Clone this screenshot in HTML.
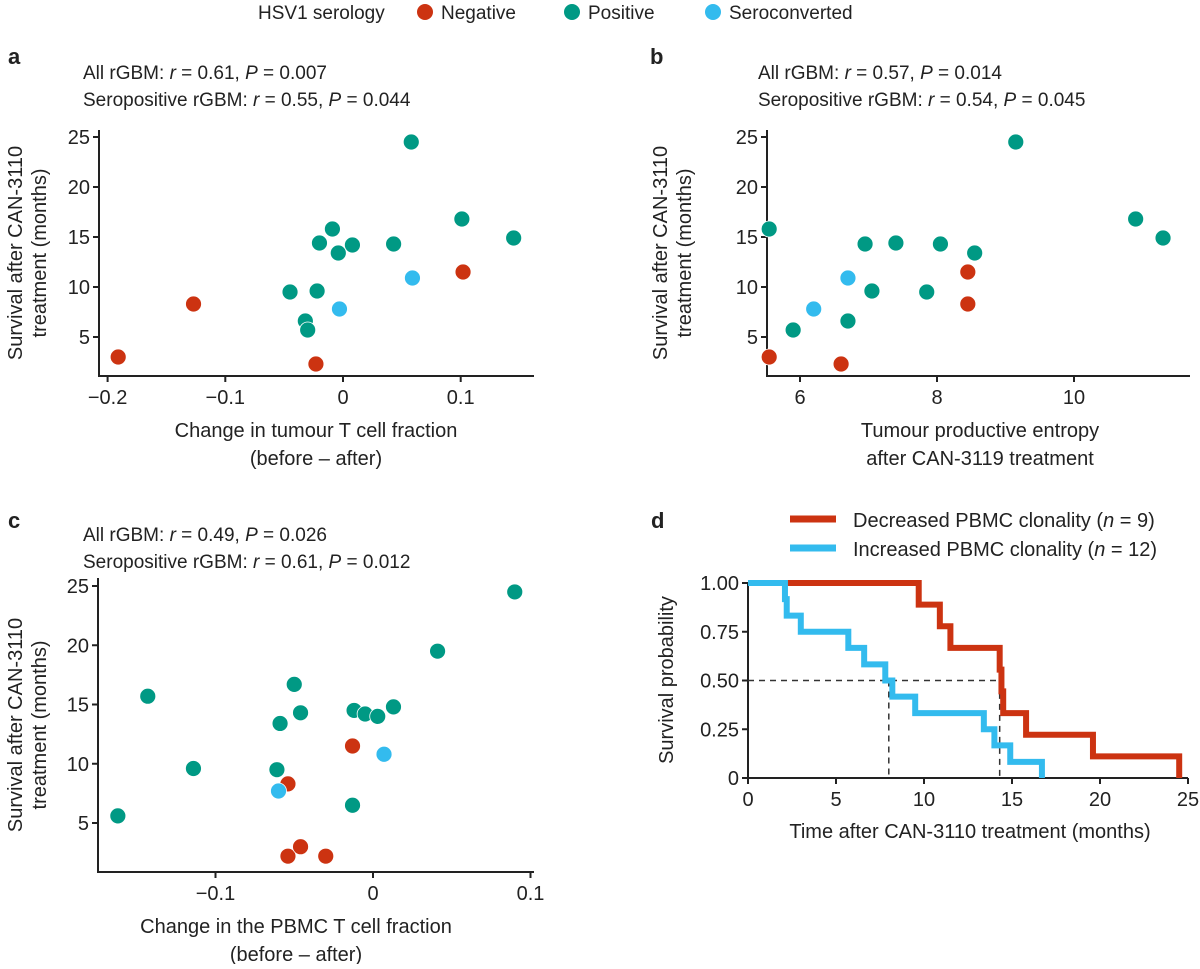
<!DOCTYPE html>
<html><head><meta charset="utf-8"><style>
body{margin:0;background:#fff}
svg{font-family:"Liberation Sans",Arial,sans-serif;}
</style></head><body>
<svg id="s" width="1200" height="964" viewBox="0 0 1200 964" xmlns="http://www.w3.org/2000/svg">
<g font-size="19" fill="#222">
<text x="258" y="19">HSV1 serology</text>
<circle cx="425" cy="12" r="8" fill="#cc3311"/>
<text x="441" y="19">Negative</text>
<circle cx="572" cy="12" r="8" fill="#009984"/>
<text x="588" y="19">Positive</text>
<circle cx="713" cy="12" r="8" fill="#33bbee"/>
<text x="729" y="19">Seroconverted</text>
</g>
<g font-size="19" fill="#222">
<text x="8" y="64" font-weight="bold" font-size="22">a</text>
<text x="83" y="79">All rGBM: <tspan font-style="italic">r</tspan> = 0.61, <tspan font-style="italic">P</tspan> = 0.007</text>
<text x="83" y="106">Seropositive rGBM: <tspan font-style="italic">r</tspan> = 0.55, <tspan font-style="italic">P</tspan> = 0.044</text>
<text x="650" y="64" font-weight="bold" font-size="22">b</text>
<text x="758" y="79">All rGBM: <tspan font-style="italic">r</tspan> = 0.57, <tspan font-style="italic">P</tspan> = 0.014</text>
<text x="758" y="106">Seropositive rGBM: <tspan font-style="italic">r</tspan> = 0.54, <tspan font-style="italic">P</tspan> = 0.045</text>
<text x="8" y="528" font-weight="bold" font-size="22">c</text>
<text x="83" y="541">All rGBM: <tspan font-style="italic">r</tspan> = 0.49, <tspan font-style="italic">P</tspan> = 0.026</text>
<text x="83" y="568">Seropositive rGBM: <tspan font-style="italic">r</tspan> = 0.61, <tspan font-style="italic">P</tspan> = 0.012</text>
<text x="651" y="528" font-weight="bold" font-size="22">d</text>
</g>
<g id="plots"></g>
</svg>
<script>
// Panel a data
const aNegX=[-0.191,-0.127,-0.023,0.102], aNegY=[3.0,8.3,2.3,11.5];
const aSeroX=[-0.003,0.059], aSeroY=[7.8,10.9];
const aPosX=[0.058,0.101,0.145,-0.009,-0.020,0.008,-0.004,0.043,-0.045,-0.022,-0.032,-0.030];
const aPosY=[24.5,16.8,14.9,15.8,14.4,14.2,13.4,14.3,9.5,9.6,6.6,5.7];
const aXTicks=[-0.2,-0.1,0,0.1], aXLabels=["\u22120.2","\u22120.1","0","0.1"];
const survTicks=[5,10,15,20,25];
// Panel b data
const bNegX=[5.55,6.6,8.45,8.45], bNegY=[3.0,2.3,11.5,8.3];
const bSeroX=[6.7,6.2], bSeroY=[10.9,7.8];
const bPosX=[5.55,5.9,6.7,6.95,7.05,7.4,7.85,8.05,8.55,9.15,10.9,11.3];
const bPosY=[15.8,5.7,6.6,14.3,9.6,14.4,9.5,14.3,13.4,24.5,16.8,14.9];
const bXTicks=[6,8,10];
// Panel c data
const cNegX=[-0.054,-0.013,-0.054,-0.046,-0.030], cNegY=[8.3,11.5,2.2,3.0,2.2];
const cSeroX=[-0.060,0.007], cSeroY=[7.7,10.8];
const cPosX=[-0.162,-0.143,-0.114,-0.061,-0.059,-0.050,-0.046,-0.012,-0.005,0.003,0.013,-0.013,0.041,0.090];
const cPosY=[5.6,15.7,9.6,9.5,13.4,16.7,14.3,14.5,14.2,14.0,14.8,6.5,19.5,24.5];
const cXTicks=[-0.1,0,0.1], cXLabels=["\u22120.1","0","0.1"];
// Panel d data (KM steps)
const decTimes=[0,9.7,10.9,11.5,14.3,14.4,14.5,15.8,19.6,24.5];
const decSurv=[1,0.889,0.778,0.667,0.556,0.444,0.333,0.222,0.111,0];
const incTimes=[0,2.1,2.2,3.0,5.7,6.6,7.8,8.2,9.5,13.4,14.0,14.9,16.7];
const incSurv=[1,0.917,0.833,0.75,0.667,0.583,0.5,0.417,0.333,0.25,0.167,0.083,0];
const medianDec=14.3, medianInc=8.0;
const dXTicks=[0,5,10,15,20,25];
const dYTicks=[0,0.25,0.5,0.75,1], dYLabels=["0","0.25","0.50","0.75","1.00"];

const NS="http://www.w3.org/2000/svg";
const root=document.getElementById('plots');
function mk(tag,attrs,parent,txt){const e=document.createElementNS(NS,tag);for(const k in attrs)e.setAttribute(k,attrs[k]);if(txt!==undefined)e.textContent=txt;(parent||root).appendChild(e);return e;}
const COL={neg:"#cc3311",pos:"#009984",sero:"#33bbee"};

function scatter(p){
  const g=mk('g',{});
  
  
  const xs=v=>p.x0+(v-p.xv0)*p.xk, ys=v=>p.y0-(v-p.yv0)*p.yk;
  const ax=mk('path',{d:`M${p.axL} ${p.axT} V${p.axB} H${p.axR}`,stroke:"#222","stroke-width":2,fill:"none"},g);
  
  
  survTicks.forEach(t=>{const y=ys(t);
    const tk=mk('line',{x1:p.axL-6,x2:p.axL,y1:y,y2:y,stroke:"#222","stroke-width":2},g);
    
    
    const tl=mk('text',{x:p.axL-9,y:y+7,"text-anchor":"end","font-size":20,fill:"#222"},g,String(t));
    
    });
  p.xt.forEach((t,i)=>{const x=xs(t);
    const tk=mk('line',{x1:x,x2:x,y1:p.axB,y2:p.axB+6,stroke:"#222","stroke-width":2},g);
    
    
    const tl=mk('text',{x:x,y:p.axB+28,"text-anchor":"middle","font-size":20,fill:"#222"},g,p.xl?p.xl[i]:String(t));
    
    });
  [["pos",p.posX,p.posY],["neg",p.negX,p.negY],["sero",p.seroX,p.seroY]].forEach(([k,X,Y])=>{
    X.forEach((v,i)=>{const c=mk('circle',{cx:xs(v),cy:ys(Y[i]),r:8,fill:COL[k],stroke:"#fff","stroke-width":0.8},g);
      
      });
  });
  const cy=(p.axT+p.axB)/2;
  const y1=mk('text',{transform:`translate(${p.ylx},${cy}) rotate(-90)`,"text-anchor":"middle","font-size":20,fill:"#222"},g,"Survival after CAN-3110");
  
  
  const y2=mk('text',{transform:`translate(${p.ylx+24},${cy}) rotate(-90)`,"text-anchor":"middle","font-size":20,fill:"#222"},g,"treatment (months)");
  
  
  const x1=mk('text',{x:p.xlc,y:p.axB+61,"text-anchor":"middle","font-size":20,fill:"#222"},g,p.xt1);
  
  
  const x2=mk('text',{x:p.xlc,y:p.axB+89,"text-anchor":"middle","font-size":20,fill:"#222"},g,p.xt2);
  
  
}
scatter({name:"panel-a-scatter",x0:343,xv0:0,xk:1177,y0:337,yv0:5,yk:10,axL:99,axT:130,axB:376,axR:534,
  xt:aXTicks,xl:aXLabels,posX:aPosX,posY:aPosY,negX:aNegX,negY:aNegY,seroX:aSeroX,seroY:aSeroY,ylx:22,xlc:316,
  xt1:"Change in tumour T cell fraction",xt2:"(before \u2013 after)"});
scatter({name:"panel-b-scatter",x0:800,xv0:6,xk:68.5,y0:337,yv0:5,yk:10,axL:767,axT:130,axB:376,axR:1190,
  xt:bXTicks,posX:bPosX,posY:bPosY,negX:bNegX,negY:bNegY,seroX:bSeroX,seroY:bSeroY,ylx:667,xlc:980,
  xt1:"Tumour productive entropy",xt2:"after CAN-3119 treatment"});
scatter({name:"panel-c-scatter",x0:373,xv0:0,xk:1575,y0:823,yv0:5,yk:11.85,axL:98,axT:578,axB:872,axR:534,
  xt:cXTicks,xl:cXLabels,posX:cPosX,posY:cPosY,negX:cNegX,negY:cNegY,seroX:cSeroX,seroY:cSeroY,ylx:22,xlc:296,
  xt1:"Change in the PBMC T cell fraction",xt2:"(before \u2013 after)"});

// Panel d
(function(){
  const g=mk('g',{});
  
  
  const xs=v=>748+v*17.6, ys=v=>778-v*195;
  dYTicks.forEach((t,i)=>{const y=ys(t);
    const tk=mk('line',{x1:742,x2:748,y1:y,y2:y,stroke:"#222","stroke-width":2},g);
    
    
    const tl=mk('text',{x:739,y:y+7,"text-anchor":"end","font-size":20,fill:"#222"},g,dYLabels[i]);
    
    });
  dXTicks.forEach(t=>{const x=xs(t);
    const tk=mk('line',{x1:x,x2:x,y1:778,y2:784,stroke:"#222","stroke-width":2},g);
    
    
    const tl=mk('text',{x:x,y:806,"text-anchor":"middle","font-size":20,fill:"#222"},g,String(t));
    
    });
  const ax=mk('path',{d:`M748 ${ys(1)} V778 H${xs(25)}`,stroke:"#222","stroke-width":2,fill:"none"},g);
  
  
  function km(T,S){let d=`M${xs(T[0])} ${ys(S[0])}`;for(let i=1;i<T.length;i++){d+=` H${xs(T[i])} V${ys(S[i])}`;}return d;}
  const dash={stroke:"#333","stroke-width":1.5,"stroke-dasharray":"6,5",fill:"none"};
  const m=mk('path',Object.assign({d:`M748 ${ys(0.5)} H${xs(medianDec)} V778 M${xs(medianInc)} ${ys(0.5)} V778`},dash),g);
  
  
  const r=mk('path',{d:km(decTimes,decSurv),stroke:"#cc3311","stroke-width":6,fill:"none"},g);
  
  
  const b=mk('path',{d:km(incTimes,incSurv),stroke:"#33bbee","stroke-width":6,fill:"none"},g);
  
  
  const l1=mk('line',{x1:790,x2:836,y1:519,y2:519,stroke:"#cc3311","stroke-width":7},g);
  
  
  const t1=mk('text',{x:853,y:527,"font-size":20,fill:"#222"},g);
  t1.innerHTML='Decreased PBMC clonality (<tspan font-style="italic">n</tspan> = 9)';
  
  
  const l2=mk('line',{x1:790,x2:836,y1:548,y2:548,stroke:"#33bbee","stroke-width":7},g);
  
  
  const t2=mk('text',{x:853,y:556,"font-size":20,fill:"#222"},g);
  t2.innerHTML='Increased PBMC clonality (<tspan font-style="italic">n</tspan> = 12)';
  
  
  const yt=mk('text',{transform:"translate(673,680) rotate(-90)","text-anchor":"middle","font-size":20,fill:"#222"},g,"Survival probability");
  
  
  const xt=mk('text',{x:970,y:838,"text-anchor":"middle","font-size":20,fill:"#222"},g,"Time after CAN-3110 treatment (months)");
  
  
})();
</script>
</body></html>
